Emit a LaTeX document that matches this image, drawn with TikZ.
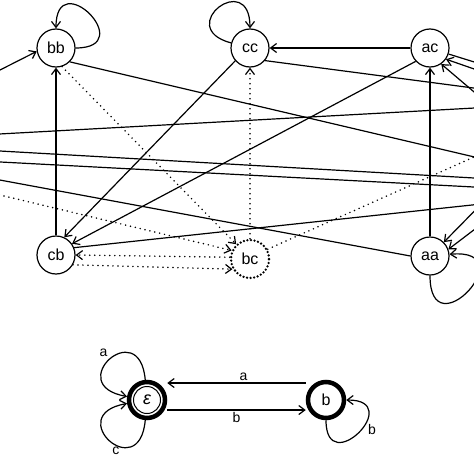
\documentclass[tikz,border=0pt]{standalone}
\usepackage{fontspec}
\setmainfont{Liberation Sans}
\usetikzlibrary{arrows.meta}

\begin{document}
\begin{tikzpicture}[x=1pt, y=1pt,
  st/.style={circle, draw, fill=white, line width=1.2pt, minimum size=38pt,
    inner sep=0pt, font=\fontsize{16}{18}\selectfont},
  dotst/.style={st, dash pattern=on 0pt off 3.6pt, line cap=round, line width=2.6pt},
  fin/.style={st, line width=4.5pt, minimum size=36pt},
  arr/.style={-{Straight Barb[length=6pt, width=9pt, line width=1.2pt]}, line width=1.2pt},
  dot/.style={arr, dash pattern=on 0pt off 5pt, line cap=round, line width=1.7pt},
  lbl/.style={font=\fontsize{14}{16}\selectfont, inner sep=1.5pt}
]
\useasboundingbox (0,0) rectangle (474,-474);
\clip (0,0) rectangle (474,-474);

\node[st] (bb) at (56,-48) {bb};
\node[st] (cc) at (250,-48) {cc};
\node[st] (ac) at (430,-48) {ac};
\node[st] (cb) at (56,-255) {cb};
\node[dotst] (bc) at (250,-259) {bc};
\node[st] (aa) at (430,-256) {aa};

\coordinate (inbb) at (-30,-85.2);
\coordinate (lA) at (-30,-135.6);
\coordinate (rA) at (504,-106.4);
\coordinate (lB) at (-30,-149.3);
\coordinate (rB) at (504,-179.7);
\coordinate (lC) at (-30,-160.4);
\coordinate (rC) at (504,-188.6);
\coordinate (laa) at (-30,-174.5);
\coordinate (lbc) at (-30,-187.8);
\coordinate (rbb) at (500,-163);
\coordinate (rcc) at (500,-91.5);
\coordinate (rac) at (500,-70);
\coordinate (rac1) at (500,-78);
\coordinate (rac2) at (500,-114);
\coordinate (rbc) at (500,-145.4);
\coordinate (rcb) at (500,-202);
\coordinate (raa1) at (500,-185);
\coordinate (raa2) at (500,-210);

\draw[arr] (bb) to[out=0, in=90, distance=64pt] (bb);
\draw[arr] (cc) to[out=165, in=90, distance=60pt] (cc);
\draw[arr] (aa) to[out=-90, in=5, distance=76pt] (aa);

\draw[arr] (inbb) -- (bb.190);
\draw[arr] (cb) -- (bb);
\draw[arr] (bb.-45) -- (rbb);
\draw[arr] (ac) -- (cc);
\draw[arr] (cc.-40) -- (rcc);
\draw[arr] (ac.-137) -- (cb.35);
\draw[arr] (cc.-139) -- (cb.65);
\draw[arr] (aa) -- (ac);
\draw[arr] (ac.-18) -- (rac);
\draw[arr] (rac1) -- (ac.-35);
\draw[arr] (rac2) -- (ac.-55);
\draw[arr] (cb.22) -- (rcb);
\draw[arr] (raa1) -- (aa.45);
\draw[arr] (raa2) -- (aa.20);
\draw[arr] (aa.180) -- (laa);
\draw[line width=1.2pt] (lA) -- (rA);
\draw[line width=1.2pt] (lB) -- (rB);
\draw[line width=1.2pt] (lC) -- (rC);

\draw[dot] (bb.-72) -- (bc.133);
\draw[dot] (cb.-30) -- (bc.-150);
\draw[dot] (bc.175) -- (cb.0);
\draw[dot] (lbc) -- (bc.155);
\draw[dot] (bc) -- (cc);
\draw[dot] (bc.29) -- (rbc);

\node[fin] (eps) at (147,-400) {\fontsize{18}{20}\selectfont\itshape ε};
\draw[line width=1pt] (eps.center) circle (13.5pt);
\node[fin] (b) at (326,-400) {b};

\draw[arr] ([yshift=17pt]b.west) -- node[lbl, above, pos=0.45] {a} ([yshift=17pt]eps.east);
\draw[arr] ([yshift=-10pt]eps.east) -- node[lbl, below] {b} ([yshift=-10pt]b.west);
\draw[arr] (eps) to[out=95, in=170, distance=66pt] node[lbl, pos=0.5, above left] {a} (eps);
\draw[arr] (eps) to[out=-95, in=190, distance=66pt] node[lbl, pos=0.42, below] {c} (eps);
\draw[arr] (b) to[out=-90, in=0, distance=60pt] node[lbl, pos=0.62, below right] {b} (b);
\end{tikzpicture}
\end{document}
